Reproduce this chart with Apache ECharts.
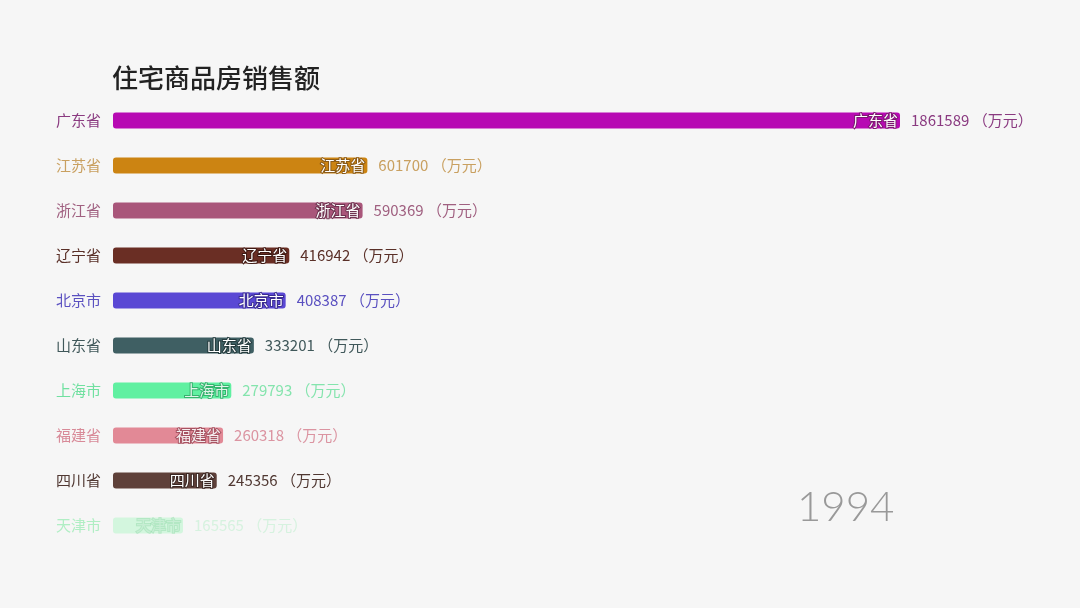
<!DOCTYPE html>
<html>
<head>
<meta charset="utf-8">
<script src="https://cdn.jsdelivr.net/npm/echarts@6/dist/echarts.min.js"></script>
<style>
html,body{margin:0;padding:0;background:#f6f6f6;}
#main{width:1080px;height:608px;}
</style>
</head>
<body>
<div id="main"></div>
<script>
var provinces = ['广东省','江苏省','浙江省','辽宁省','北京市','山东省','上海市','福建省','四川省','天津市'];
var values = [1861589, 601700, 590369, 416942, 408387, 333201, 279793, 260318, 245356, 165565];
var year = '1994';
var titleText = '住宅商品房销售额';
var unit = '（万元）';

var barColors = ['#b70ab3','#cc8412','#a9567a','#6a2e24','#5a48d4','#3f5f63','#45ee92','#e07d8c','#5e4039','#a8f7c0'];
var borderColors = ['#7c1a6f','#8a5a18','#6e3450','#3e1a14','#3a2c90','#243a3c','#2fa866','#a04e5c','#3a2622','#8cd8a4'];
var axisColors = ['#8a3a80','#c9a060','#a06080','#5a3028','#5a50c0','#40585a','#70e0a0','#d88a98','#503832','#b0eec4'];
var opac = [1,1,1,1,1,1,0.85,0.9,1,0.45];

var chart = echarts.init(document.getElementById('main'));
var font = '"Noto Sans CJK SC", "Microsoft YaHei", sans-serif';

chart.setOption({
  backgroundColor: '#f6f6f6',
  animation: false,
  title: {
    text: titleText,
    left: 107, top: 60,
    textStyle: {fontSize: 26, fontWeight: 500, color: '#222', fontFamily: font}
  },
  grid: {left: 113, right: 180, top: 98, bottom: 60, containLabel: false},
  xAxis: {type: 'value', max: 'dataMax', show: false},
  yAxis: {
    type: 'category', data: provinces, inverse: true,
    axisLine: {show: false}, axisTick: {show: false}, splitLine: {show: false},
    axisLabel: {
      fontSize: 15, fontFamily: font, margin: 12,
      color: function (v, i) { return axisColors[i]; }
    }
  },
  graphic: [{
    type: 'text', left: 797, top: 486,
    style: {text: year, fontSize: 42, fill: '#999', fontFamily: 'Lato, "Open Sans", sans-serif', fontWeight: 300}
  }],
  series: [{
    type: 'bar', barWidth: 16,
    data: values.map(function (v, i) {
      return {
        value: v,
        itemStyle: {color: barColors[i], opacity: opac[i], borderRadius: 3},
        label: {
          show: true, position: 'insideRight', distance: 2,
          formatter: provinces[i], color: i === 9 ? 'rgba(255,255,255,0.6)' : '#fff',
          fontSize: 15, fontFamily: font,
          textBorderColor: borderColors[i], textBorderWidth: 2,
          opacity: opac[i]
        }
      };
    })
  }, {
    type: 'bar', barWidth: 16, barGap: '-100%', silent: true,
    itemStyle: {color: 'transparent'},
    data: values.map(function (v, i) {
      return {
        value: v,
        label: {
          show: true, position: 'right', distance: 11,
          formatter: v + ' ' + unit,
          color: axisColors[i],
          fontSize: 15, fontFamily: font, opacity: opac[i]
        }
      };
    })
  }]
});
</script>
</body>
</html>
